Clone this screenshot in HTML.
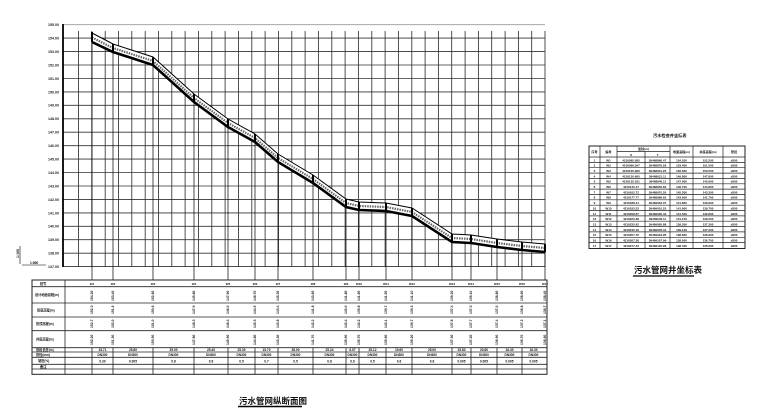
<!DOCTYPE html>
<html><head><meta charset="utf-8"><style>
html,body{margin:0;padding:0;background:#fff;}
svg{display:block;font-family:"Liberation Sans","Noto Sans CJK SC",sans-serif;font-weight:bold;}
</style></head><body>
<svg width="760" height="416" viewBox="0 0 760 416" xmlns="http://www.w3.org/2000/svg">
<line x1="63" y1="24.7" x2="545" y2="24.7" stroke="#999" stroke-width="0.8"/>
<path stroke="#333" stroke-width="0.85" fill="none" d="M63 38.1H545M63 51.6H545M63 65H545M63 78.5H545M63 91.9H545M63 105.3H545M63 118.8H545M63 132.2H545M63 145.7H545M63 159.1H545M63 172.5H545M63 186H545M63 199.4H545M63 212.9H545M63 226.3H545M63 239.7H545M63 253.2H545M63 266.6H545"/>
<path stroke="#333" stroke-width="0.85" fill="none" d="M78.5 31V267M91.8 31V267M105.2 31V267M118.5 31V267M131.8 31V267M145.2 31V267M158.5 31V267M171.8 31V267M185.1 31V267M198.5 31V267M211.8 31V267M225.1 31V267M238.5 31V267M251.8 31V267M265.1 31V267M278.5 31V267M291.8 31V267M305.1 31V267M318.4 31V267M331.8 31V267M345.1 31V267M358.4 31V267M371.8 31V267M385.1 31V267M398.4 31V267M411.8 31V267M425.1 31V267M438.4 31V267M451.7 31V267M465.1 31V267M478.4 31V267M491.7 31V267M505.1 31V267M518.4 31V267M531.7 31V267M545 31V267"/>
<line x1="63" y1="24" x2="63" y2="267" stroke="#000" stroke-width="1.8"/>
<g font-size="3.6" fill="#222" text-anchor="end">
<text x="59" y="26">155.00</text><text x="59" y="39.5">154.00</text><text x="59" y="53">153.00</text><text x="59" y="66.4">152.00</text><text x="59" y="79.9">151.00</text><text x="59" y="93.3">150.00</text><text x="59" y="106.7">149.00</text><text x="59" y="120.2">148.00</text><text x="59" y="133.6">147.00</text><text x="59" y="147.1">146.00</text><text x="59" y="160.5">145.00</text><text x="59" y="173.9">144.00</text><text x="59" y="187.4">143.00</text><text x="59" y="200.8">142.00</text><text x="59" y="214.3">141.00</text><text x="59" y="227.7">140.00</text><text x="59" y="241.1">139.00</text><text x="59" y="254.6">138.00</text><text x="59" y="268">137.00</text>
</g>
<line x1="20" y1="246" x2="20" y2="264" stroke="#000" stroke-width="0.6"/>
<text x="0" y="0" font-size="3.5" transform="translate(19,258) rotate(-90)">1:100</text>
<line x1="22" y1="265" x2="46" y2="265" stroke="#000" stroke-width="0.6"/>
<text x="30" y="264" font-size="3.2">1:500</text>
<path stroke="#000" stroke-width="0.7" fill="none" d="M92 42V280M113 52V280M153 65V280M194 102V280M228 127V280M255 142V280M278 162V280M313 183V280M346 207V280M359 210V280M386 211V280M412 216V280M452 242V280M471 243V280M497 247V280M522 250V280M545 252V280"/>
<polygon fill="#fff" stroke="none" points="92,33 113,44 153,57 194,94 228,119 255,134 278,154 313,175 346,199 359,202 386,203 412,208 452,234 471,235 497,239 522,242 545,244 545,252 522,250 497,247 471,243 452,242 412,216 386,211 359,210 346,207 313,183 278,162 255,142 228,127 194,102 153,65 113,52 92,42"/>
<polyline fill="none" stroke="#666" stroke-width="2.2" stroke-dasharray="1.5,1" points="92,37.5 113,48 153,61 194,98 228,123 255,138 278,158 313,179 346,203 359,206 386,207 412,212 452,238 471,239 497,243 522,246 545,248"/>
<polyline fill="none" stroke="#000" stroke-width="1" points="92,33 113,44 153,57 194,94 228,119 255,134 278,154 313,175 346,199 359,202 386,203 412,208 452,234 471,235 497,239 522,242 545,244"/>
<polyline fill="none" stroke="#000" stroke-width="2.6" points="92,42 113,52 153,65 194,102 228,127 255,142 278,162 313,183 346,207 359,210 386,211 412,216 452,242 471,243 497,247 522,250 545,252"/>
<path stroke="#000" stroke-width="2" fill="none" d="M92 32V42M113 44V52M153 57V65M194 94V102M228 119V127M255 134V142M278 154V162M313 175V183M346 199V207M359 202V210M386 203V211M412 208V216M452 234V242M471 235V243M497 239V247M522 242V250M545 244V252"/>
<g stroke="#222" fill="none">
<rect x="32" y="280" width="515" height="94.3" stroke-width="1"/>
<line x1="65" y1="280" x2="65" y2="374" stroke-width="0.8"/>
<path stroke-width="0.8" d="M32 286.7H547M32 303H547M32 317H547M32 330.7H547M32 347.7H547M32 352H547M32 357.3H547M32 364.3H547M32 369H547"/>
<path stroke-width="0.8" d="M92 347.7V374M113 347.7V374M153 347.7V374M194 347.7V374M228 347.7V374M255 347.7V374M278 347.7V374M313 347.7V374M346 347.7V374M359 347.7V374M386 347.7V374M412 347.7V374M452 347.7V374M471 347.7V374M497 347.7V374M522 347.7V374"/>
</g>
<g font-size="3.2" fill="#111">
<text x="40" y="285">桩号</text>
<text x="35" y="296">设计地面高程(m)</text>
<text x="37" y="311.5">管底高程(m)</text>
<text x="36" y="325">管顶高程(m)</text>
<text x="36" y="340.5">井底高程(m)</text>
<text x="36" y="351">管段长度(m)</text>
<text x="36" y="356">管径(mm)</text>
<text x="38" y="362">坡度(%)</text>
<text x="40" y="368">备注</text>
</g>
<g font-size="3" fill="#111" text-anchor="middle">
<text x="92" y="285">W1</text><text x="113" y="285">W2</text><text x="153" y="285">W3</text><text x="194" y="285">W4</text><text x="228" y="285">W5</text><text x="255" y="285">W6</text><text x="278" y="285">W7</text><text x="313" y="285">W8</text><text x="346" y="285">W9</text><text x="359" y="285">W10</text><text x="386" y="285">W11</text><text x="412" y="285">W12</text><text x="452" y="285">W13</text><text x="471" y="285">W14</text><text x="497" y="285">W15</text><text x="522" y="285">W16</text><text x="545" y="285">W17</text>
</g>
<g font-size="3.4" fill="#222">
<g transform="translate(93,301) rotate(-90)"><text>154.20</text></g><g transform="translate(114,301) rotate(-90)"><text>153.40</text></g><g transform="translate(154,301) rotate(-90)"><text>152.60</text></g><g transform="translate(195,301) rotate(-90)"><text>149.80</text></g><g transform="translate(229,301) rotate(-90)"><text>147.90</text></g><g transform="translate(256,301) rotate(-90)"><text>146.70</text></g><g transform="translate(279,301) rotate(-90)"><text>145.30</text></g><g transform="translate(314,301) rotate(-90)"><text>143.60</text></g><g transform="translate(347,301) rotate(-90)"><text>141.80</text></g><g transform="translate(360,301) rotate(-90)"><text>141.60</text></g><g transform="translate(387,301) rotate(-90)"><text>141.50</text></g><g transform="translate(413,301) rotate(-90)"><text>141.10</text></g><g transform="translate(453,301) rotate(-90)"><text>139.20</text></g><g transform="translate(472,301) rotate(-90)"><text>139.10</text></g><g transform="translate(498,301) rotate(-90)"><text>138.80</text></g><g transform="translate(523,301) rotate(-90)"><text>138.60</text></g><g transform="translate(546,301) rotate(-90)"><text>138.40</text></g>
</g>
<g font-size="3.4" fill="#222">
<g transform="translate(93,314) rotate(-90)"><text>152.3</text></g><g transform="translate(114,314) rotate(-90)"><text>151.6</text></g><g transform="translate(154,314) rotate(-90)"><text>150.6</text></g><g transform="translate(195,314) rotate(-90)"><text>147.9</text></g><g transform="translate(229,314) rotate(-90)"><text>146.0</text></g><g transform="translate(256,314) rotate(-90)"><text>144.9</text></g><g transform="translate(279,314) rotate(-90)"><text>143.4</text></g><g transform="translate(314,314) rotate(-90)"><text>141.8</text></g><g transform="translate(347,314) rotate(-90)"><text>140.0</text></g><g transform="translate(360,314) rotate(-90)"><text>139.8</text></g><g transform="translate(387,314) rotate(-90)"><text>139.7</text></g><g transform="translate(413,314) rotate(-90)"><text>139.3</text></g><g transform="translate(453,314) rotate(-90)"><text>137.4</text></g><g transform="translate(472,314) rotate(-90)"><text>137.3</text></g><g transform="translate(498,314) rotate(-90)"><text>137.0</text></g><g transform="translate(523,314) rotate(-90)"><text>136.8</text></g><g transform="translate(546,314) rotate(-90)"><text>136.7</text></g>
</g>
<g font-size="3.4" fill="#222">
<g transform="translate(93,328) rotate(-90)"><text>152.7</text></g><g transform="translate(114,328) rotate(-90)"><text>152.0</text></g><g transform="translate(154,328) rotate(-90)"><text>151.0</text></g><g transform="translate(195,328) rotate(-90)"><text>148.3</text></g><g transform="translate(229,328) rotate(-90)"><text>146.4</text></g><g transform="translate(256,328) rotate(-90)"><text>145.3</text></g><g transform="translate(279,328) rotate(-90)"><text>143.8</text></g><g transform="translate(314,328) rotate(-90)"><text>142.2</text></g><g transform="translate(347,328) rotate(-90)"><text>140.4</text></g><g transform="translate(360,328) rotate(-90)"><text>140.2</text></g><g transform="translate(387,328) rotate(-90)"><text>140.1</text></g><g transform="translate(413,328) rotate(-90)"><text>139.7</text></g><g transform="translate(453,328) rotate(-90)"><text>137.8</text></g><g transform="translate(472,328) rotate(-90)"><text>137.7</text></g><g transform="translate(498,328) rotate(-90)"><text>137.4</text></g><g transform="translate(523,328) rotate(-90)"><text>137.2</text></g><g transform="translate(546,328) rotate(-90)"><text>137.1</text></g>
</g>
<g font-size="3.4" fill="#222">
<g transform="translate(93,345) rotate(-90)"><text>152.20</text></g><g transform="translate(114,345) rotate(-90)"><text>151.50</text></g><g transform="translate(154,345) rotate(-90)"><text>150.50</text></g><g transform="translate(195,345) rotate(-90)"><text>147.80</text></g><g transform="translate(229,345) rotate(-90)"><text>145.90</text></g><g transform="translate(256,345) rotate(-90)"><text>144.80</text></g><g transform="translate(279,345) rotate(-90)"><text>143.30</text></g><g transform="translate(314,345) rotate(-90)"><text>141.70</text></g><g transform="translate(347,345) rotate(-90)"><text>139.90</text></g><g transform="translate(360,345) rotate(-90)"><text>139.70</text></g><g transform="translate(387,345) rotate(-90)"><text>139.60</text></g><g transform="translate(413,345) rotate(-90)"><text>139.20</text></g><g transform="translate(453,345) rotate(-90)"><text>137.30</text></g><g transform="translate(472,345) rotate(-90)"><text>137.20</text></g><g transform="translate(498,345) rotate(-90)"><text>136.90</text></g><g transform="translate(523,345) rotate(-90)"><text>136.70</text></g><g transform="translate(546,345) rotate(-90)"><text>136.60</text></g>
</g>
<g font-size="3.2" fill="#111" text-anchor="middle">
<text x="102.5" y="351">15.71</text><text x="133" y="351">25.80</text><text x="173.5" y="351">25.00</text><text x="211" y="351">25.40</text><text x="241.5" y="351">25.30</text><text x="266.5" y="351">15.70</text><text x="295.5" y="351">28.00</text><text x="329.5" y="351">25.24</text><text x="352.5" y="351">8.57</text><text x="372.5" y="351">25.12</text><text x="399" y="351">19.60</text><text x="432" y="351">25.00</text><text x="461.5" y="351">15.80</text><text x="484" y="351">20.80</text><text x="509.5" y="351">16.40</text><text x="533.5" y="351">16.30</text>
<text x="102.5" y="356">DN300</text><text x="133" y="356">DN300</text><text x="173.5" y="356">DN300</text><text x="211" y="356">DN300</text><text x="241.5" y="356">DN300</text><text x="266.5" y="356">DN300</text><text x="295.5" y="356">DN300</text><text x="329.5" y="356">DN300</text><text x="352.5" y="356">DN300</text><text x="372.5" y="356">DN300</text><text x="399" y="356">DN300</text><text x="432" y="356">DN300</text><text x="461.5" y="356">DN300</text><text x="484" y="356">DN300</text><text x="509.5" y="356">DN300</text><text x="533.5" y="356">DN300</text>
<text x="102.5" y="362.5">0.30</text><text x="133" y="362.5">0.005</text><text x="173.5" y="362.5">0.8</text><text x="211" y="362.5">0.8</text><text x="241.5" y="362.5">0.5</text><text x="266.5" y="362.5">0.7</text><text x="295.5" y="362.5">0.5</text><text x="329.5" y="362.5">0.8</text><text x="352.5" y="362.5">0.6</text><text x="372.5" y="362.5">0.5</text><text x="399" y="362.5">0.6</text><text x="432" y="362.5">0.8</text><text x="461.5" y="362.5">0.005</text><text x="484" y="362.5">0.005</text><text x="509.5" y="362.5">0.005</text><text x="533.5" y="362.5">0.005</text>
</g>
<text x="239" y="404" font-size="8.5" fill="#111">污水管网纵断面图</text>
<line x1="238" y1="406.5" x2="302" y2="406.5" stroke="#000" stroke-width="1.5"/>
<text x="653" y="137" font-size="4.2" fill="#111">污水检查井坐标表</text>
<g stroke="#222" fill="none" stroke-width="0.7">
<rect x="589" y="146" width="156" height="102.5" stroke-width="1"/>
<path d="M600 146V248.5M617 146V248.5M645 151.5V248.5M670 146V248.5M693 146V248.5M723 146V248.5M617 151.5H670M589 157H745"/>
<path d="M589 162.4H745M589 167.7H745M589 173.1H745M589 178.4H745M589 183.8H745M589 189.1H745M589 194.5H745M589 199.8H745M589 205.2H745M589 210.5H745M589 215.9H745M589 221.2H745M589 226.6H745M589 231.9H745M589 237.3H745M589 242.6H745"/>
</g>
<g font-size="3.1" fill="#111" text-anchor="middle">
<text x="594.5" y="153">序号</text><text x="608.5" y="153">编号</text><text x="643.5" y="150">坐标(m)</text><text x="631" y="156">X</text><text x="657.5" y="156">Y</text><text x="681.5" y="153">地面高程(m)</text><text x="708" y="153">井底高程(m)</text><text x="734" y="153">管径</text>
</g>
<g font-size="3" fill="#111" text-anchor="middle">
<text x="594.5" y="161.3">1</text><text x="608.5" y="161.3">W1</text><text x="631" y="161.3">4216085.085</text><text x="657.5" y="161.3">39468866.47</text><text x="681.5" y="161.3">154.200</text><text x="708" y="161.3">152.200</text><text x="734" y="161.3">d300</text>
<text x="594.5" y="166.6">2</text><text x="608.5" y="166.6">W2</text><text x="631" y="166.6">4216096.297</text><text x="657.5" y="166.6">39468879.28</text><text x="681.5" y="166.6">153.400</text><text x="708" y="166.6">151.500</text><text x="734" y="166.6">d300</text>
<text x="594.5" y="172">3</text><text x="608.5" y="172">W3</text><text x="631" y="172">4216105.280</text><text x="657.5" y="172">39468901.20</text><text x="681.5" y="172">152.600</text><text x="708" y="172">150.500</text><text x="734" y="172">d300</text>
<text x="594.5" y="177.3">4</text><text x="608.5" y="177.3">W4</text><text x="631" y="177.3">4216120.665</text><text x="657.5" y="177.3">39468921.11</text><text x="681.5" y="177.3">149.800</text><text x="708" y="177.3">147.800</text><text x="734" y="177.3">d300</text>
<text x="594.5" y="182.7">5</text><text x="608.5" y="182.7">W5</text><text x="631" y="182.7">4216135.331</text><text x="657.5" y="182.7">39468940.11</text><text x="681.5" y="182.7">147.900</text><text x="708" y="182.7">145.900</text><text x="734" y="182.7">d300</text>
<text x="594.5" y="188">6</text><text x="608.5" y="188">W6</text><text x="631" y="188">4216145.17</text><text x="657.5" y="188">39468952.83</text><text x="681.5" y="188">146.700</text><text x="708" y="188">144.800</text><text x="734" y="188">d300</text>
<text x="594.5" y="193.4">7</text><text x="608.5" y="193.4">W7</text><text x="631" y="193.4">4216162.72</text><text x="657.5" y="193.4">39468970.55</text><text x="681.5" y="193.4">145.300</text><text x="708" y="193.4">143.300</text><text x="734" y="193.4">d300</text>
<text x="594.5" y="198.7">8</text><text x="608.5" y="198.7">W8</text><text x="631" y="198.7">4216177.77</text><text x="657.5" y="198.7">39468989.62</text><text x="681.5" y="198.7">143.600</text><text x="708" y="198.7">141.700</text><text x="734" y="198.7">d300</text>
<text x="594.5" y="204.1">9</text><text x="608.5" y="204.1">W9</text><text x="631" y="204.1">4216188.41</text><text x="657.5" y="204.1">39469003.37</text><text x="681.5" y="204.1">141.800</text><text x="708" y="204.1">139.900</text><text x="734" y="204.1">d300</text>
<text x="594.5" y="209.4">10</text><text x="608.5" y="209.4">W10</text><text x="631" y="209.4">4216193.53</text><text x="657.5" y="209.4">39469010.25</text><text x="681.5" y="209.4">141.600</text><text x="708" y="209.4">139.700</text><text x="734" y="209.4">d300</text>
<text x="594.5" y="214.8">11</text><text x="608.5" y="214.8">W11</text><text x="631" y="214.8">4216208.67</text><text x="657.5" y="214.8">39469030.40</text><text x="681.5" y="214.8">141.500</text><text x="708" y="214.8">139.600</text><text x="734" y="214.8">d300</text>
<text x="594.5" y="220.1">12</text><text x="608.5" y="220.1">W12</text><text x="631" y="220.1">4216220.38</text><text x="657.5" y="220.1">39469046.11</text><text x="681.5" y="220.1">141.100</text><text x="708" y="220.1">139.200</text><text x="734" y="220.1">d300</text>
<text x="594.5" y="225.5">13</text><text x="608.5" y="225.5">W13</text><text x="631" y="225.5">4216235.62</text><text x="657.5" y="225.5">39469065.88</text><text x="681.5" y="225.5">139.200</text><text x="708" y="225.5">137.300</text><text x="734" y="225.5">d300</text>
<text x="594.5" y="230.8">14</text><text x="608.5" y="230.8">W14</text><text x="631" y="230.8">4216245.16</text><text x="657.5" y="230.8">39469078.44</text><text x="681.5" y="230.8">139.100</text><text x="708" y="230.8">137.200</text><text x="734" y="230.8">d300</text>
<text x="594.5" y="236.2">15</text><text x="608.5" y="236.2">W15</text><text x="631" y="236.2">4216257.70</text><text x="657.5" y="236.2">39469094.96</text><text x="681.5" y="236.2">138.800</text><text x="708" y="236.2">136.900</text><text x="734" y="236.2">d300</text>
<text x="594.5" y="241.5">16</text><text x="608.5" y="241.5">W16</text><text x="631" y="241.5">4216267.58</text><text x="657.5" y="241.5">39469107.99</text><text x="681.5" y="241.5">138.600</text><text x="708" y="241.5">136.700</text><text x="734" y="241.5">d300</text>
<text x="594.5" y="246.9">17</text><text x="608.5" y="246.9">W17</text><text x="631" y="246.9">4216277.43</text><text x="657.5" y="246.9">39469120.96</text><text x="681.5" y="246.9">138.400</text><text x="708" y="246.9">136.600</text><text x="734" y="246.9">d300</text>
</g>
<text x="634" y="273" font-size="8.5" fill="#111">污水管网井坐标表</text>
<line x1="633" y1="276" x2="694" y2="276" stroke="#000" stroke-width="1.3"/>
</svg>
</body></html>
